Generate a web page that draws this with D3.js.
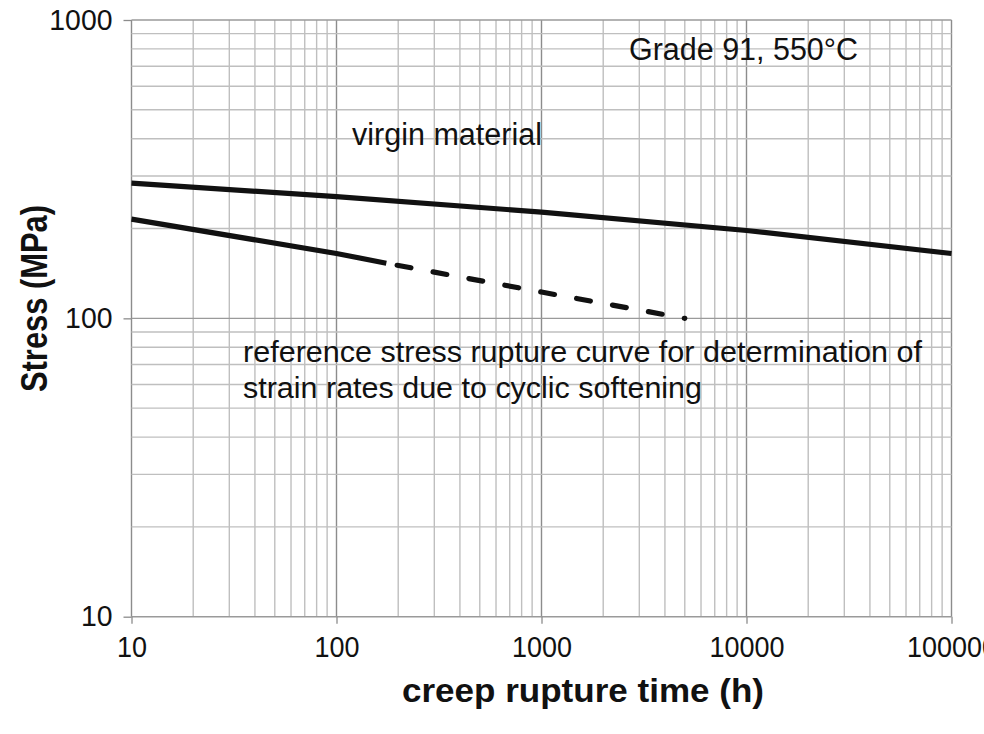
<!DOCTYPE html>
<html>
<head>
<meta charset="utf-8">
<script src="https://cdn.jsdelivr.net/npm/d3@7"></script>
<style>
  body { margin: 0; background: #fff; }
  text { font-family: "Liberation Sans", Arial, Helvetica, sans-serif; fill: #111; }
</style>
</head>
<body>
<div id="chart"></div>
<script>
// creep rupture curves
var virginTime = [10, 100, 1000, 10000, 100000];
var virginStress = [284, 256, 227, 197, 165];

var refTime = [10, 100, 175];
var refStress = [215, 165, 153];

var refExtTime = [175, 1000, 5000];
var refExtStress = [153, 122.5, 100];

var xTicks = [10, 100, 1000, 10000, 100000];
var yTicks = [10, 100, 1000];

function drawChart() {
    var width = 984, height = 734;
    var margin = {left: 131.5, top: 20, right: 32.5, bottom: 117.3};

    var svg = d3.select("#chart").append("svg")
        .attr("width", width)
        .attr("height", height);

    var x = d3.scaleLog().domain([10, 100000]).range([margin.left, width - margin.right]);
    var y = d3.scaleLog().domain([10, 1000]).range([height - margin.bottom, margin.top]);

    // grid: every 1..9 x 10^n
    var xGrid = [], yGrid = [];
    for (var n = 1; n < 5; n++) for (var k = 1; k < 10; k++) xGrid.push(k * Math.pow(10, n));
    xGrid.push(100000);
    for (var m = 1; m < 3; m++) for (var j = 1; j < 10; j++) yGrid.push(j * Math.pow(10, m));
    yGrid.push(1000);

    function isMajor(v) {
        var l = Math.log10(v);
        return Math.abs(l - Math.round(l)) < 1e-9;
    }

    var grid = svg.append("g");
    grid.selectAll("line.v")
        .data(xGrid)
        .enter().append("line")
        .attr("x1", function(d) { return x(d); })
        .attr("x2", function(d) { return x(d); })
        .attr("y1", y(10))
        .attr("y2", y(1000))
        .attr("stroke", function(d) { return isMajor(d) ? "#8c8c8c" : "#bfbfbf"; })
        .attr("stroke-width", function(d) { return isMajor(d) ? 1.4 : 1.4; });

    grid.selectAll("line.h")
        .data(yGrid)
        .enter().append("line")
        .attr("y1", function(d) { return y(d); })
        .attr("y2", function(d) { return y(d); })
        .attr("x1", x(10))
        .attr("x2", x(100000))
        .attr("stroke", function(d) { return isMajor(d) ? "#9a9a9a" : "#bfbfbf"; })
        .attr("stroke-width", function(d) { return isMajor(d) ? 1.4 : 1.4; });

    // axes
    var xAxis = svg.append("g")
        .attr("transform", "translate(0," + y(10) + ")")
        .call(d3.axisBottom(x).tickValues(xTicks).tickFormat(d3.format("d")).tickSize(7).tickPadding(13));
    xAxis.select(".domain").remove();
    xAxis.selectAll("line").attr("stroke", "#8c8c8c").attr("stroke-width", 1.3);
    xAxis.selectAll("text")
        .style("font-size", "29px")
        .style("font-family", "'Liberation Sans', Arial, sans-serif")
        .attr("textLength", function(d) { return String(d).length * 15; })
        .attr("lengthAdjust", "spacingAndGlyphs")
        .attr("fill", "#111");

    var yAxis = svg.append("g")
        .attr("transform", "translate(" + x(10) + ",0)")
        .call(d3.axisLeft(y).tickValues(yTicks).tickFormat(d3.format("d")).tickSize(8).tickPadding(11));
    yAxis.select(".domain").remove();
    yAxis.selectAll("line").attr("stroke", "#8c8c8c").attr("stroke-width", 1.3);
    yAxis.selectAll("text")
        .style("font-size", "29px")
        .style("font-family", "'Liberation Sans', Arial, sans-serif")
        .attr("textLength", function(d) { return String(d).length * 15.8; })
        .attr("lengthAdjust", "spacingAndGlyphs")
        .attr("fill", "#111");

    // curves
    var line = d3.line()
        .x(function(d) { return x(d[0]); })
        .y(function(d) { return y(d[1]); });

    svg.append("path")
        .datum(d3.zip(virginTime, virginStress))
        .attr("d", line)
        .attr("fill", "none")
        .attr("stroke", "#111")
        .attr("stroke-width", 5.2);

    svg.append("path")
        .datum(d3.zip(refTime, refStress))
        .attr("d", line)
        .attr("fill", "none")
        .attr("stroke", "#111")
        .attr("stroke-width", 5.2);

    // dashed extension, pattern laid out so that it finishes with a dot
    var ext = svg.append("path")
        .datum(d3.zip(refExtTime, refExtStress))
        .attr("d", line)
        .attr("fill", "none")
        .attr("stroke", "#111")
        .attr("stroke-width", 5.2)
        .attr("stroke-linecap", "round");
    var dash = 14, gap = 22.5, period = dash + gap;
    var len = ext.node().getTotalLength();
    var off = ((0.5 - len) % period + period) % period;
    ext.attr("stroke-dasharray", dash + " " + gap)
        .attr("stroke-dashoffset", off);

    // labels
    function label(txt, lx, ly, size, len) {
        svg.append("text")
            .attr("x", lx)
            .attr("y", ly)
            .attr("textLength", len)
            .attr("lengthAdjust", "spacingAndGlyphs")
            .style("font-size", size + "px")
            .text(txt);
    }
    label("Grade 91, 550°C", 629, 60, 31, 229);
    label("virgin material", 352, 145, 31, 190);
    label("reference stress rupture curve for determination of", 243, 362, 30, 679);
    label("strain rates due to cyclic softening", 243, 398, 30, 459);

    svg.append("text")
        .attr("x", 402)
        .attr("y", 702)
        .attr("textLength", 362)
        .attr("lengthAdjust", "spacingAndGlyphs")
        .style("font-size", "33px")
        .style("font-weight", "bold")
        .text("creep rupture time (h)");

    svg.append("text")
        .attr("transform", "translate(47," + 392 + ") rotate(-90)")
        .attr("textLength", 187)
        .attr("lengthAdjust", "spacingAndGlyphs")
        .style("font-size", "37px")
        .style("font-weight", "bold")
        .text("Stress (MPa)");
}

drawChart();
</script>
</body>
</html>
